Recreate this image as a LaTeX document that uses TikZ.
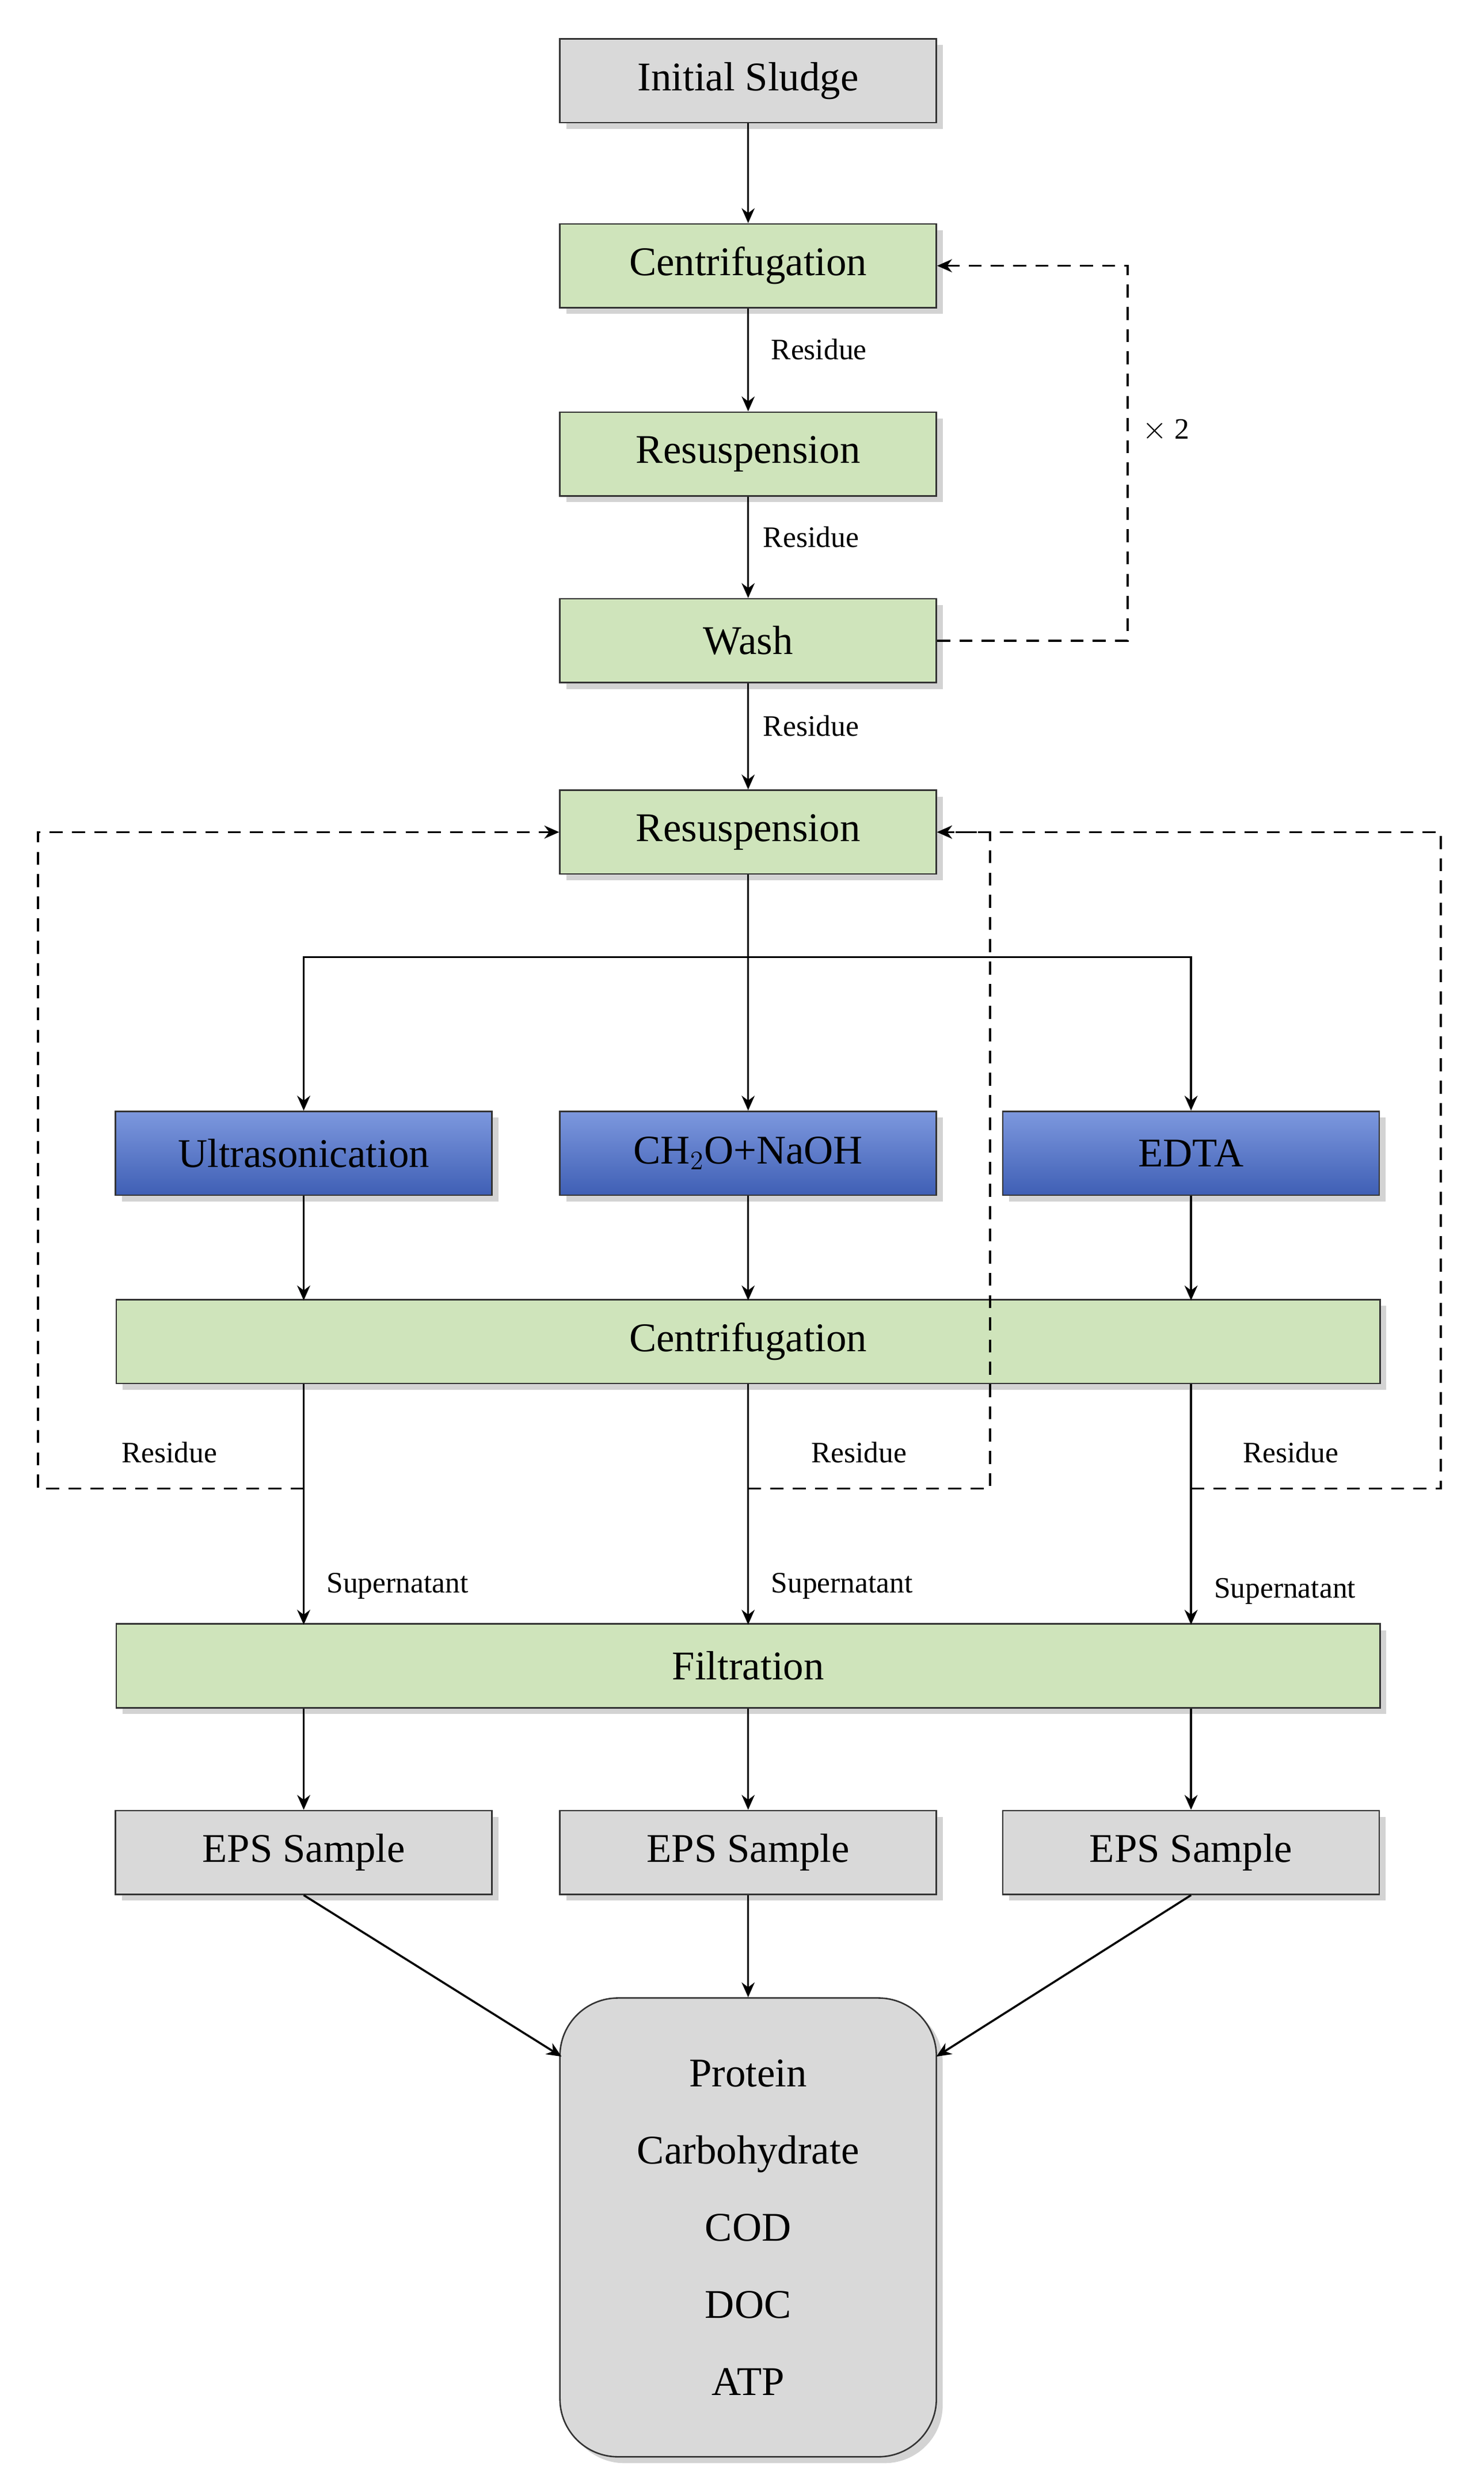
\documentclass[tikz,border=0pt]{standalone}
\usepackage{fontspec}
\setmainfont{Liberation Serif}
\usetikzlibrary{shadows,arrows.meta}
\definecolor{gfill}{HTML}{CFE4BB}
\definecolor{gray1}{HTML}{D9D9D9}
\definecolor{bluetop}{HTML}{7D98DE}
\definecolor{bluebot}{HTML}{3F5FB5}
\begin{document}
\begin{tikzpicture}[x=0.03cm,y=-0.03cm,
  box/.style={draw=black!80,line width=0.8pt,minimum height=1.59cm,inner sep=0pt,font=\fontsize{22}{26}\selectfont,drop shadow={shadow xshift=0.12cm,shadow yshift=-0.12cm,opacity=0.35}},
  g/.style={box,fill=gfill,minimum width=7.14cm},
  gr/.style={box,fill=gray1,minimum width=7.14cm},
  bl/.style={box,top color=bluetop,bottom color=bluebot,minimum width=7.14cm},
  wide/.style={box,fill=gfill,minimum width=23.97cm},
  arr/.style={line width=1.1pt,-{Stealth[length=8pt,width=7pt]}},
  dasharr/.style={arr,dash pattern=on 7pt off 5pt},
  lbl/.style={font=\fontsize{16}{19}\selectfont}]
\useasboundingbox (0,0) rectangle (938,1562);
\node[gr] (init) at (473,51) {Initial Sludge};
\node[g] (c1) at (473,168) {Centrifugation};
\node[g] (r1) at (473,287) {Resuspension};
\node[g] (w) at (473,405) {Wash};
\node[g] (r2) at (473,526) {Resuspension};
\node[bl] (u) at (192,729) {Ultrasonication};
\node[bl] (ch) at (473,729) {CH$_2$O+NaOH};
\node[bl] (ed) at (753,729) {EDTA};
\node[wide] (c2) at (473,848) {Centrifugation};
\node[wide] (f) at (473,1053) {Filtration};
\node[gr] (e1) at (192,1171) {EPS Sample};
\node[gr] (e2) at (473,1171) {EPS Sample};
\node[gr] (e3) at (753,1171) {EPS Sample};
\node[gr,rounded corners=1.1cm,minimum height=8.7cm,align=center,font=\fontsize{22}{26}\selectfont] (res) at (473,1408)
 {Protein\\[0.55cm]Carbohydrate\\[0.55cm]COD\\[0.55cm]DOC\\[0.55cm]ATP};
\draw[arr] (init) -- (c1);
\draw[arr] (c1) -- node[lbl,right=0.3cm,pos=0.4]{Residue} (r1);
\draw[arr] (r1) -- node[lbl,right=0.15cm,pos=0.4]{Residue} (w);
\draw[arr] (w) -- node[lbl,right=0.15cm,pos=0.4]{Residue} (r2);
\coordinate (x2) at (713,405);
\draw[dasharr] (w.east) -- (x2) |- (c1.east);
\node[lbl] at (737,272) {$\times$ 2};
\coordinate (b) at (473,605);
\draw[line width=1.1pt] (r2.south) -- (b);
\draw[arr] (b) -| (u.north);
\draw[arr] (b) -- (ch.north);
\draw[arr] (b) -| (ed.north);
\foreach \s/\x in {u/192,ch/473,ed/753}{\draw[arr] (\s.south) -- (\x,822);}
\coordinate (j1) at (192,941); \coordinate (j2) at (473,941); \coordinate (j3) at (753,941);
\draw[dasharr] (j1) -- (24,941) |- (r2.west);
\draw[dasharr] (j2) -- (626,941) |- (r2.east);
\draw[dasharr] (j3) -- (911,941) |- (r2.east);
\node[lbl] at (107,918) {Residue};
\node[lbl] at (543,918) {Residue};
\node[lbl] at (816,918) {Residue};
\draw[arr] (192,875) -- node[lbl,pos=0.84,right=0.3cm]{Supernatant} (192,1027);
\draw[arr] (473,875) -- node[lbl,pos=0.84,right=0.3cm]{Supernatant} (473,1027);
\draw[arr] (753,875) -- node[lbl,pos=0.86,right=0.3cm]{Supernatant} (753,1027);
\foreach \x/\e in {192/e1,473/e2,753/e3}{\draw[arr] (\x,1080) -- (\e.north);}
\draw[arr] (e1.south) -- (355,1300);
\draw[arr] (e2.south) -- (res.north);
\draw[arr] (e3.south) -- (592,1300);
\end{tikzpicture}
\end{document}
